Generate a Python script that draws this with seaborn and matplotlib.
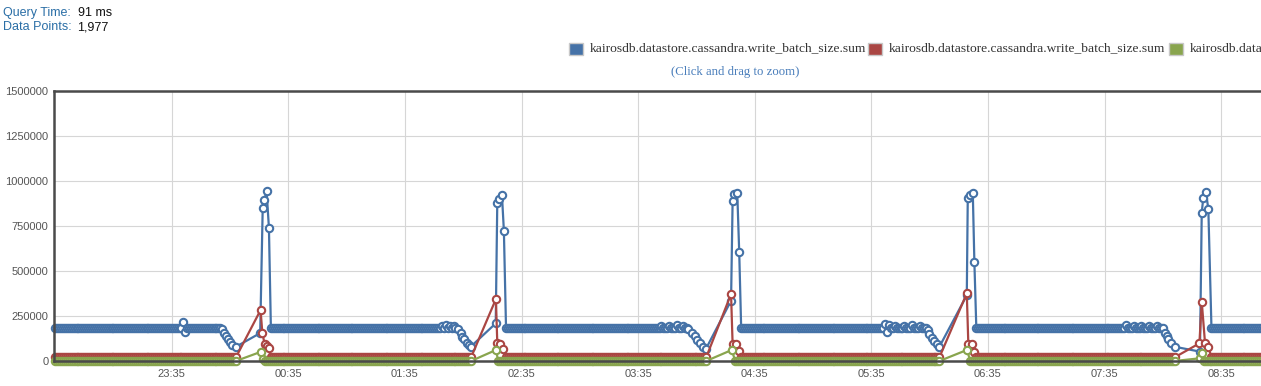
import numpy as np
import pandas as pd
import matplotlib
matplotlib.use("Agg")
import matplotlib.pyplot as plt
import matplotlib.dates as mdates
from matplotlib.patches import Rectangle
import seaborn as sns

# ---------------- data (minutes relative to 23:35) ----------------
BASE_TIME = pd.Timestamp("2014-06-10 23:35")
X_MIN, X_MAX = -60.6, 567.7

SERIES_NAME = "kairosdb.datastore.cassandra.write_batch_size.sum"
COLORS = ["#4572A7", "#AA4643", "#89A54E"]

Y_TICKS = [0, 250000, 500000, 750000, 1000000, 1250000, 1500000]
X_TICK_MINUTES = [0, 60, 120, 180, 240, 300, 360, 420, 480, 540]
X_TICK_LABELS = ["23:35", "00:35", "01:35", "02:35", "03:35", "04:35", "05:35", "06:35", "07:35", "08:35"]

# blue series
BLUE_BASE = 185000
blue_runs = [(-60, 25), (51, 146), (172, 265), (293, 388), (414, 509), (535, 576)]
blue_bump_t = [6, 7, 139, 141, 143, 145, 252, 256, 260, 263,
               367, 368, 369, 372, 377, 381, 385, 491, 495, 499, 503, 507]
blue_bump_v = [215000, 163000, 196000, 198000, 194000, 192000, 197000, 193000, 198000, 195000,
               205000, 163000, 198000, 197000, 195000, 199000, 196000, 200000, 195000, 197000, 194000, 196000]
blue_evt_t = [26, 27, 28, 29, 30, 31, 33, 45.5, 46.8, 47.6, 48.8, 50.0,
              147.4, 148.7, 149.5, 150.5, 151.7, 152.9, 153.8, 166.7, 167.5, 168.4, 169.9, 170.9,
              265.8, 267.5, 269.2, 270.4, 271.8, 273.5, 274.9, 287.8, 288.6, 289.5, 291.0, 292.0,
              389.0, 389.8, 391.0, 392.2, 393.6, 395.0, 409.1, 409.6, 410.8, 412.2, 413.0,
              510.2, 511.1, 512.0, 512.8, 514.0, 516.2, 529.1, 530.0, 530.8, 532.2, 533.4]
blue_evt_v = [178000, 157000, 139000, 120000, 104000, 89000, 79000, 155000, 852000, 894000, 943000, 739000,
              178000, 154000, 135000, 120000, 102000, 89000, 79000, 209000, 879000, 899000, 922000, 724000,
              178000, 157000, 139000, 117000, 98000, 79000, 68000, 335000, 889000, 926000, 931000, 604000,
              172000, 148000, 129000, 111000, 93000, 79000, 365000, 904000, 922000, 931000, 552000,
              182000, 157000, 139000, 120000, 102000, 79000, 52000, 824000, 907000, 937000, 843000]

# red series
RED_BASE = 20000
red_runs = [(-60, 33), (51, 154), (172, 275), (293, 395), (414, 516), (535, 576)]
red_evt_t = [45.7, 46.6, 47.8, 48.8, 49.9,
             166.8, 167.5, 168.9, 170.6,
             287.8, 288.6, 290.3, 291.9,
             409.1, 409.9, 411.6, 412.8,
             528.8, 530.0, 531.7, 533.4]
red_evt_v = [283000, 157000, 93000, 83000, 70000,
             344000, 102000, 94000, 65000,
             372000, 93000, 93000, 57000,
             376000, 93000, 93000, 51000,
             98000, 330000, 98000, 79000]

# green series
GREEN_BASE = 0
green_runs = [(-60, 33), (48, 154), (168, 275), (290, 395), (411, 516), (531, 576)]
green_evt_t = [46.1, 47.1, 166.8, 288.1, 409.1, 529.0, 530.0]
green_evt_v = [52000, 12000, 61000, 61000, 61000, 15000, 46000]


def to_time(minutes):
    return BASE_TIME + pd.to_timedelta(pd.Series(minutes, dtype=float), unit="m")


def build(runs, base, evt_t, evt_v, bump_t=(), bump_v=()):
    bumps = dict(zip(bump_t, bump_v))
    t, v = [], []
    for a, b in runs:
        for m in range(a, b + 1):
            t.append(float(m))
            v.append(bumps.get(m, base))
    t += list(evt_t)
    v += list(evt_v)
    df = pd.DataFrame({"minute": t, "value": v}).sort_values("minute").reset_index(drop=True)
    df["time"] = to_time(df["minute"]).values
    return df


frames = [
    build(blue_runs, BLUE_BASE, blue_evt_t, blue_evt_v, blue_bump_t, blue_bump_v),
    build(red_runs, RED_BASE, red_evt_t, red_evt_v),
    build(green_runs, GREEN_BASE, green_evt_t, green_evt_v),
]

# ---------------- figure ----------------
sns.set_theme(style="white")
plt.rcParams["font.family"] = ["Liberation Sans", "DejaVu Sans"]

W, H = 1261, 386
fig = plt.figure(figsize=(W / 100, H / 100), dpi=100)
ax_left, ax_right, ax_top, ax_bottom = 54, 1275, 91, 361
ax = fig.add_axes([ax_left / W, 1 - ax_bottom / H, (ax_right - ax_left) / W, (ax_bottom - ax_top) / H])

for df, c in zip(frames, COLORS):
    sns.lineplot(data=df, x="time", y="value", ax=ax, color=c, estimator=None, sort=True,
                 linewidth=1.6, marker="o", markersize=5.3, markerfacecolor="white",
                 markeredgecolor=c, markeredgewidth=1.5, clip_on=False, legend=False)

ax.set_xlim(BASE_TIME + pd.Timedelta(minutes=X_MIN), BASE_TIME + pd.Timedelta(minutes=X_MAX))
ax.set_ylim(0, 1500000)
ax.set_yticks(Y_TICKS)
ax.set_yticklabels([str(v) for v in Y_TICKS])
ax.set_xticks(list(to_time(X_TICK_MINUTES)))
ax.set_xticklabels(X_TICK_LABELS)
ax.set_xlabel("")
ax.set_ylabel("")

ax.grid(True, color="#d6d6d6", linewidth=0.8)
ax.set_axisbelow(True)
for side in ["left", "top", "bottom", "right"]:
    ax.spines[side].set_color("#4a4a4a")
    ax.spines[side].set_linewidth(1.8)
ax.tick_params(axis="both", length=0, labelsize=8, labelcolor="#555555")
ax.tick_params(axis="y", pad=4)
ax.tick_params(axis="x", pad=6)

# ---------------- header texts ----------------
def fx(x):
    return x / W

def fy(y):
    return 1 - y / H

fig.text(fx(3), fy(13), "Query Time:", color="#2a6ea6", fontsize=9, va="center", ha="left")
fig.text(fx(78), fy(13), "91 ms", color="#111111", fontsize=9, va="center", ha="left")
fig.text(fx(3), fy(27), "Data Points:", color="#2a6ea6", fontsize=9, va="center", ha="left")
fig.text(fx(77), fy(27), "1,977", color="#111111", fontsize=9, va="center", ha="left")

legend_x = [569, 868, 1169]
for lx, c in zip(legend_x, COLORS):
    fig.add_artist(Rectangle((fx(lx), fy(55)), 14 / W, 12 / H, transform=fig.transFigure,
                             facecolor=c, edgecolor="#c8c8c8", linewidth=1))
    fig.text(fx(lx + 21), fy(48.5), SERIES_NAME, color="#333333", fontsize=9.7,
             family="Liberation Serif", va="center", ha="left")

fig.text(fx(735.5), fy(72), "(Click and drag to zoom)", color="#4a7ebb", fontsize=9.2,
         family="Liberation Serif", va="center", ha="center")

fig.savefig("out.png", dpi=100)
